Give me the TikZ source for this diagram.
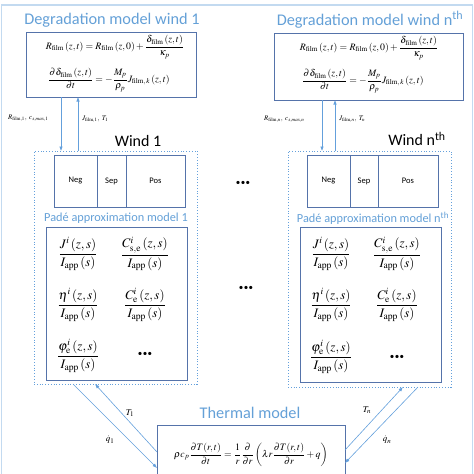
\documentclass[tikz,border=0pt]{standalone}
\usepackage{amsmath}
\usepackage{mathptmx}
\usepackage{fontspec}
\setmainfont{Carlito}
\usetikzlibrary{arrows.meta}
\definecolor{ttl}{RGB}{100,160,215}
\definecolor{bx}{RGB}{85,115,170}
\definecolor{arr}{RGB}{100,160,220}
\definecolor{frm}{RGB}{195,218,240}
\tikzset{
  ttlfont/.style={text=ttl,font=\fontsize{16.3}{18}\selectfont,inner sep=0pt},
  windfont/.style={text=black,font=\fontsize{16}{18}\selectfont,inner sep=0pt},
  padettl/.style={text=ttl,font=\fontsize{12.3}{14}\selectfont,inner sep=0pt},
  degbox/.style={draw=bx,line width=0.9pt,rectangle,inner sep=0pt,outer sep=0pt},
  dotbox/.style={draw=arr,dotted,line width=0.8pt,rectangle,inner sep=0pt,outer sep=0pt},
  cellbox/.style={draw=bx,line width=0.9pt,rectangle,inner sep=0pt,outer sep=0pt,minimum height=52pt,font=\fontsize{8.5}{9}\selectfont},
  frac/.style={inner sep=0pt,font=\fontsize{13}{14}\selectfont},
  eqfont/.style={inner sep=0pt,font=\fontsize{9.8}{11}\selectfont},
  lbl/.style={inner sep=0pt,font=\fontsize{7}{8}\selectfont},
  conn/.style={draw=arr,line width=0.6pt},
  tip/.style={-{Latex[length=4.5pt,width=3.5pt]}},
  dotsfont/.style={inner sep=0pt,font=\fontsize{9}{10}\selectfont},
}
\newcommand{\pfrac}[1]{$\displaystyle\frac{#1\left(z,s\right)}{I_{\mathrm{app}}\left(s\right)}$}
\newcommand{\bdots}{\textbullet\kern0.3pt\textbullet\kern0.3pt\textbullet}
\begin{document}
\begin{tikzpicture}[x=1pt,y=-1pt]
\useasboundingbox (0,0) rectangle (474,474);
\clip (0,0) rectangle (474,474);
% outer frame
\node[draw=frm,line width=1.6pt,rectangle,inner sep=0pt,minimum width=471pt,minimum height=500pt,anchor=north west] (frame) at (0.8,4) {};
% titles
\node[ttlfont] (t1) at (112,20) {Degradation model wind 1};
\node[ttlfont] (t2) at (370,20) {Degradation model wind n\textsuperscript{th}};
% degradation boxes
\node[degbox,minimum width=170pt,minimum height=65pt] (deg1) at (111,64.5) {};
\node[degbox,minimum width=189pt,minimum height=67pt] (deg2) at (368.5,66.5) {};
\node[eqfont] (e1a) at (115,47)
  {$R_{\mathrm{film}}\left(z,t\right)=R_{\mathrm{film}}\left(z,0\right)+\dfrac{\delta_{\mathrm{film}}\left(z,t\right)}{\kappa_p}$};
\node[eqfont] (e1b) at (109,80)
  {$\dfrac{\partial\delta_{\mathrm{film}}\left(z,t\right)}{\partial t}=-\dfrac{M_p}{\rho_p}J_{\mathrm{film},\,k}\left(z,t\right)$};
\node[eqfont] (e2a) at (369,48)
  {$R_{\mathrm{film}}\left(z,t\right)=R_{\mathrm{film}}\left(z,0\right)+\dfrac{\delta_{\mathrm{film}}\left(z,t\right)}{\kappa_p}$};
\node[eqfont] (e2b) at (363,81)
  {$\dfrac{\partial\delta_{\mathrm{film}}\left(z,t\right)}{\partial t}=-\dfrac{M_p}{\rho_p}J_{\mathrm{film},\,k}\left(z,t\right)$};
% wind titles
\node[windfont] (w1) at (138,141) {Wind 1};
\node[windfont] (w2) at (417,139) {Wind n\textsuperscript{th}};
% dotted boxes
\node[dotbox,minimum width=163pt,minimum height=233pt] (dot1) at (115.5,267.5) {};
\node[dotbox,minimum width=163pt,minimum height=236pt] (dot2) at (369.5,269) {};
% cells
\node[cellbox,minimum width=43pt,anchor=north west] (neg1) at (54,155) {Neg};
\node[cellbox,minimum width=29pt,anchor=north west] (sep1) at (97,155) {Sep};
\node[cellbox,minimum width=59pt,anchor=north west] (pos1) at (126,155) {Pos};
\node[cellbox,minimum width=43pt,anchor=north west] (neg2) at (307,155) {Neg};
\node[cellbox,minimum width=28pt,anchor=north west] (sep2) at (350,155) {Sep};
\node[cellbox,minimum width=60pt,anchor=north west] (pos2) at (378,155) {Pos};
% pade titles
\node[padettl] (p1t) at (116,218) {Padé approximation model 1};
\node[padettl] (p2t) at (373,218.5) {Padé approximation model n\textsuperscript{th}};
% pade boxes
\node[degbox,minimum width=141pt,minimum height=153pt] (pade1) at (116.5,303.5) {};
\node[degbox,minimum width=141pt,minimum height=155pt] (pade2) at (370.5,304.5) {};
% fractions left
\node[frac] (f11) at (78,254) {\pfrac{J^{i}}};
\node[frac] (f12) at (145,254) {\pfrac{C^{i}_{\mathrm{s,e}}}};
\node[frac] (f21) at (78,305) {\pfrac{\eta^{i}}};
\node[frac] (f22) at (145,305) {\pfrac{C^{i}_{\mathrm{e}}}};
\node[frac] (f31) at (78,356) {\pfrac{\varphi^{i}_{\mathrm{e}}}};
\node[dotsfont] (f32) at (145,354) {\bdots};
% fractions right
\node[frac] (g11) at (331,254) {\pfrac{J^{i}}};
\node[frac] (g12) at (397,254) {\pfrac{C^{i}_{\mathrm{s,e}}}};
\node[frac] (g21) at (331,305) {\pfrac{\eta^{i}}};
\node[frac] (g22) at (397,305) {\pfrac{C^{i}_{\mathrm{e}}}};
\node[frac] (g31) at (331,357) {\pfrac{\varphi^{i}_{\mathrm{e}}}};
\node[dotsfont] (g32) at (397,357) {\bdots};
% middle dots
\node[dotsfont] (md1) at (243,183) {\bdots};
\node[dotsfont] (md2) at (246,288) {\bdots};
% thermal
\node[text=ttl,font=\fontsize{16.3}{18}\selectfont,inner sep=0pt] (tht) at (250,413) {Thermal model};
\node[degbox,minimum width=188pt,minimum height=60pt,anchor=north west] (th) at (157,425) {};
\node[eqfont] (the) at (251,455)
  {$\rho c_p\dfrac{\partial T(r,t)}{\partial t}=\dfrac{1}{r}\dfrac{\partial}{\partial r}\left(\lambda r\dfrac{\partial T(r,t)}{\partial r}+q\right)$};
% vertical connectors
\draw[conn,tip] (deg1.south -| 61,0) -- (dot1.north -| 61,0);
\draw[conn,tip] (dot1.north -| 78,0) -- (deg1.south -| 78,0);
\draw[conn,tip] (deg2.south -| 322,0) -- (dot2.north -| 322,0);
\draw[conn,tip] (dot2.north -| 335,0) -- (deg2.south -| 335,0);
\node[lbl,anchor=west] (l1) at (8,118) {$R_{\mathrm{film},1},\ c_{s,max,1}$};
\node[lbl,anchor=west] (l2) at (82,119) {$J_{\mathrm{film},1},\ T_1$};
\node[lbl,anchor=west] (l3) at (264,119) {$R_{\mathrm{film},n},\ c_{s,max,n}$};
\node[lbl,anchor=west] (l4) at (339,119) {$J_{\mathrm{film},n},\ T_n$};
% diagonal connectors
\draw[conn,tip] (dot1.south -| 73,0) -- (th.west |- 0,468);
\draw[conn,tip] (th.west |- 0,452) -- (dot1.south -| 95,0);
\draw[conn,tip] (th.east |- 0,450) -- (dot2.south -| 403,0);
\draw[conn,tip] (dot2.south -| 418,0) -- (th.east |- 0,463);
\node[inner sep=0pt,font=\fontsize{9}{10}\selectfont] (lq1) at (110,440) {$\dot{q}_1$};
\node[inner sep=0pt,font=\fontsize{9}{10}\selectfont] (lt1) at (130,413) {$T_1$};
\node[inner sep=0pt,font=\fontsize{9}{10}\selectfont] (ltn) at (367,410) {$T_n$};
\node[inner sep=0pt,font=\fontsize{9}{10}\selectfont] (lqn) at (387,440) {$\dot{q}_n$};
\end{tikzpicture}
\end{document}
